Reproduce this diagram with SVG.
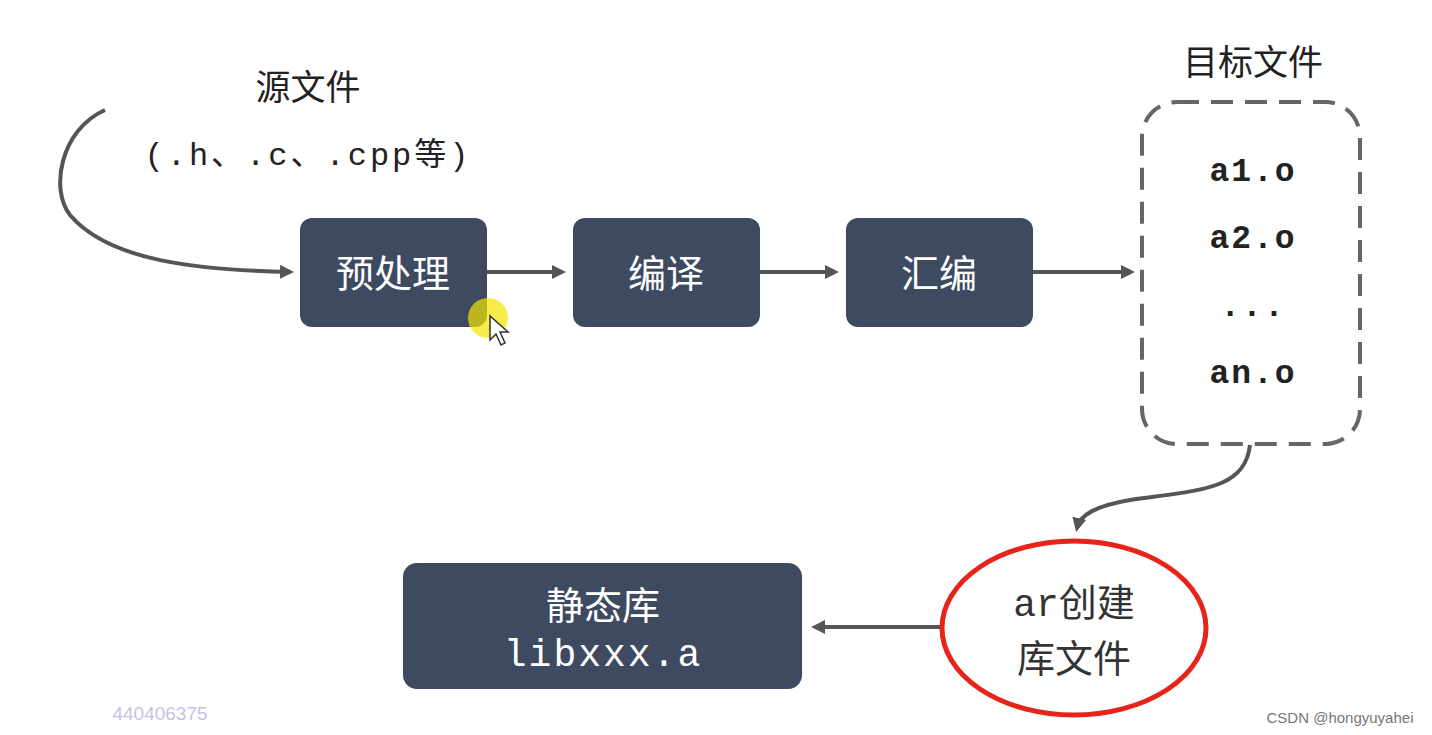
<svg xmlns="http://www.w3.org/2000/svg" width="1432" height="735" viewBox="0 0 1432 735">
<defs>
<marker id="ah" markerWidth="14" markerHeight="14" refX="10" refY="7" orient="auto" markerUnits="userSpaceOnUse" viewBox="0 0 14 14"><path d="M0,0 L14,7 L0,14 z" fill="#555"/></marker>
<style>
.box{fill:#3d4a5f}
.bt{fill:#fff;font-family:"Noto Sans CJK SC",sans-serif;font-size:38px;text-anchor:middle}
.ln{fill:none;stroke:#555;stroke-width:4}
.obj{font-family:"Liberation Mono",monospace;font-weight:bold;font-size:33px;letter-spacing:2px;text-anchor:middle;fill:#222}
.lbl{font-family:"Noto Sans CJK SC",sans-serif;font-size:35px;text-anchor:middle;fill:#222}
</style>
</defs>
<rect width="1432" height="735" fill="#fff"/>
<g id="connectors">
<path class="ln" d="M105,110 C60,130 50,190 70,215 C110,262 200,270 290,272" marker-end="url(#ah)"/>
<line class="ln" x1="487" y1="272" x2="562" y2="272" marker-end="url(#ah)"/>
<line class="ln" x1="760" y1="272" x2="835" y2="272" marker-end="url(#ah)"/>
<line class="ln" x1="1033" y1="272" x2="1131" y2="272" marker-end="url(#ah)"/>
<path class="ln" d="M1250,445 C1245,490 1200,490 1130,500 C1095,506 1080,515 1077,528" marker-end="url(#ah)"/>
<line class="ln" x1="940" y1="627" x2="815" y2="627" marker-end="url(#ah)"/>
</g>
<g id="src"><text class="lbl" x="308" y="100">源文件</text>
<text x="308" y="165" font-family="Liberation Mono,'Noto Sans CJK SC',monospace" font-size="32" letter-spacing="3" text-anchor="middle" fill="#222">(.h、.c、.cpp等)</text></g>
<g id="n1"><rect class="box" x="300" y="218" width="187" height="109" rx="12"/><text class="bt" x="393" y="287">预处理</text></g>
<g id="n2"><rect class="box" x="573" y="218" width="187" height="109" rx="12"/><text class="bt" x="666" y="287">编译</text></g>
<g id="n3"><rect class="box" x="846" y="218" width="187" height="109" rx="12"/><text class="bt" x="939" y="287">汇编</text></g>
<g id="obj">
<text class="lbl" x="1253" y="75">目标文件</text>
<rect x="1142" y="102" width="218" height="342" rx="35" fill="none" stroke="#666" stroke-width="4" stroke-dasharray="22,12"/>
<text class="obj" x="1253" y="181">a1.o</text>
<text class="obj" x="1253" y="248">a2.o</text>
<text class="obj" x="1253" y="316">...</text>
<text class="obj" x="1253" y="383">an.o</text>
</g>
<g id="ar"><ellipse cx="1074" cy="628" rx="132" ry="87" fill="#fff" stroke="#e8231a" stroke-width="5"/>
<text x="1074" y="616" font-family="'Liberation Mono','Noto Sans CJK SC',monospace" font-size="38" text-anchor="middle" fill="#333">ar创建</text>
<text x="1074" y="672" font-family="'Noto Sans CJK SC',sans-serif" font-size="38" text-anchor="middle" fill="#333">库文件</text></g>
<g id="lib"><rect class="box" x="403" y="563" width="399" height="126" rx="14"/>
<text class="bt" x="603" y="619">静态库</text>
<text x="603" y="666" font-family="'Liberation Mono',monospace" font-size="38" letter-spacing="2" text-anchor="middle" fill="#fff">libxxx.a</text></g>
<circle cx="488" cy="318" r="20" fill="#f2e600" opacity="0.7"/>
<path d="M490,316 L490,340 L496,334 L501,345 L505,343 L500,332 L508,332 z" fill="#fff" stroke="#333" stroke-width="1.5"/>
<text x="160" y="720" font-family="'Liberation Sans',sans-serif" font-size="19" text-anchor="middle" fill="#c8c0ea">440406375</text>
<text x="1340" y="723" font-family="'Liberation Sans',sans-serif" font-size="15" text-anchor="middle" fill="#777">CSDN @hongyuyahei</text>
</svg>
